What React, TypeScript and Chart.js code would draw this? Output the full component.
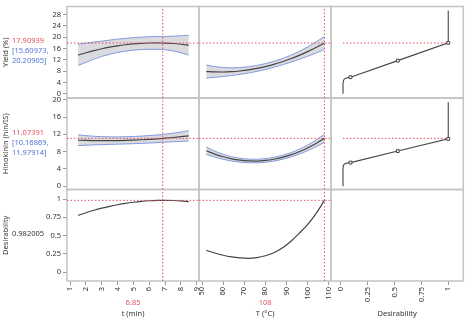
import React, { useEffect, useRef } from 'react';
import { Chart, registerables } from 'chart.js';
Chart.register(...registerables);

// ---- factor grids ----
const tGrid = [1.5, 2, 2.5, 3, 3.5, 4, 4.5, 5, 5.5, 6, 6.5, 6.85, 7, 7.5, 8, 8.5];
const TGrid = [52, 56, 60, 64, 68, 72, 76, 80, 84, 88, 92, 96, 100, 104, 108];

// ---- Yield (%) profiles ----
const yieldVsT_mean = [13.65, 14.48, 15.23, 15.88, 16.44, 16.92, 17.30, 17.60, 17.80, 17.92, 17.95, 17.91, 17.88, 17.73, 17.48, 17.15];
const yieldVsT_lo = [10.0, 11.08, 12.23, 13.18, 13.94, 14.57, 15.05, 15.40, 15.60, 15.70, 15.68, 15.61, 15.53, 15.13, 14.48, 13.65];
const yieldVsT_hi = [17.5, 17.88, 18.23, 18.58, 18.94, 19.27, 19.55, 19.80, 20.00, 20.14, 20.22, 20.21, 20.23, 20.33, 20.48, 20.65];
const yieldVsTemp_mean = [7.84, 7.69, 7.67, 7.79, 8.04, 8.42, 8.94, 9.59, 10.38, 11.30, 12.36, 13.54, 14.86, 16.32, 17.91];
const yieldVsTemp_lo = [5.54, 5.79, 6.07, 6.44, 6.84, 7.32, 7.89, 8.54, 9.33, 10.20, 11.16, 12.14, 13.21, 14.37, 15.61];
const yieldVsTemp_hi = [10.14, 9.59, 9.27, 9.14, 9.24, 9.52, 9.99, 10.64, 11.43, 12.40, 13.56, 14.94, 16.51, 18.27, 20.21];

// ---- Hinokinin (hin/IS) profiles ----
const hinoVsT_mean = [10.65, 10.59, 10.56, 10.54, 10.55, 10.57, 10.61, 10.67, 10.75, 10.85, 10.97, 11.07, 11.11, 11.27, 11.45, 11.65];
const hinoVsT_lo = [9.40, 9.49, 9.56, 9.62, 9.68, 9.73, 9.78, 9.84, 9.91, 9.99, 10.08, 10.17, 10.19, 10.29, 10.37, 10.45];
const hinoVsT_hi = [11.90, 11.69, 11.56, 11.46, 11.42, 11.41, 11.44, 11.50, 11.59, 11.71, 11.86, 11.98, 12.03, 12.25, 12.53, 12.85];
const hinoVsTemp_mean = [8.20, 7.43, 6.81, 6.34, 6.02, 5.85, 5.83, 5.96, 6.24, 6.67, 7.25, 7.98, 8.86, 9.89, 11.07];
const hinoVsTemp_lo = [7.35, 6.73, 6.23, 5.84, 5.57, 5.43, 5.41, 5.54, 5.81, 6.21, 6.75, 7.42, 8.21, 9.12, 10.17];
const hinoVsTemp_hi = [9.05, 8.13, 7.39, 6.84, 6.47, 6.27, 6.25, 6.38, 6.67, 7.13, 7.75, 8.54, 9.51, 10.66, 11.98];

// ---- overall desirability profiles ----
const desVsT = [0.777, 0.813, 0.846, 0.875, 0.900, 0.922, 0.941, 0.956, 0.968, 0.976, 0.981, 0.982, 0.982, 0.980, 0.974, 0.965];
const desVsTemp = [0.30, 0.262, 0.232, 0.21, 0.196, 0.19, 0.20, 0.225, 0.265, 0.33, 0.42, 0.53, 0.65, 0.80, 0.982];

// ---- desirability functions (x = desirability, y = response) ----
const yieldDesFn_d = [0.02, 0.02, 0.024, 0.032, 0.045, 0.065, 0.09, 0.53, 1.0, 1.0];
const yieldDesFn_y = [0, 3.5, 4.6, 5.2, 5.5, 5.7, 5.85, 11.7, 18.0, 29.4];
const yieldDesPts_d = [0.09, 0.53, 1.0];
const yieldDesPts_y = [5.85, 11.7, 18.0];
const hinoDesFn_d = [0.02, 0.02, 0.024, 0.032, 0.05, 0.07, 0.09, 0.53, 1.0, 1.0];
const hinoDesFn_y = [0, 4.2, 4.8, 5.1, 5.3, 5.4, 5.47, 8.13, 10.95, 19.4];
const hinoDesPts_d = [0.09, 0.53, 1.0];
const hinoDesPts_y = [5.47, 8.13, 10.95];

// ---- current settings ----
const tCurrent = 6.85;
const TCurrent = 108;
const yieldCurrent = 17.90939;
const hinoCurrent = 11.07391;
const desCurrent = 0.982005;
const desLineStart = 0.02;
const desLineEnd = 1.0;

// ---- axis ticks / ranges ----
const tTicks = [1, 2, 3, 4, 5, 6, 7, 8, 9];
const TTicks = [50, 60, 70, 80, 90, 100, 110];
const dTicks = [0, 0.25, 0.5, 0.75, 1];
const yieldTicks = [0, 4, 8, 12, 16, 20, 24, 28];
const hinoTicks = [0, 4, 8, 12, 16, 20];
const desTicks = [0, 0.25, 0.5, 0.75, 1];
const tRange = [0.8, 9.15];
const TRange = [48.6, 111.2];
const dRange = [-0.09, 1.14];
const yieldRange = [-1.5, 30.8];
const hinoRange = [-0.75, 20.4];
const desRange = [-0.12, 1.13];

// ---- texts ----
const rowTitles = ['Yield (%)', 'Hinokinin (hin/IS)', 'Desirability'];
const rowValues = ['17.90939', '11.07391', '0.982005'];
const rowIntervals = [['[15.60973,', '20.20905]'], ['[10.16869,', '11.97914]'], []];
const colTitles = ['t (min)', 'T (°C)', 'Desirability'];
const colValues = ['6.85', '108', ''];

const FONT = "'Noto Sans', 'Open Sans', sans-serif";
const RED = '#e2505e';
const BLUE = '#4f74d6';
const TEXT = '#333333';
const BAND_FILL = 'rgba(125,127,140,0.28)';
const BAND_EDGE = '#819be0';
const MEAN = '#454545';

const pts = (xs: number[], ys: number[]) => xs.map((x, i) => ({ x, y: ys[i] }));

function App() {
  const ref = useRef<HTMLCanvasElement | null>(null);
  useEffect(() => {
    if (!ref.current) return;

    const yScale = (range: number[], ticks: number[], weight: number) => ({
      type: 'linear', position: 'left', stack: 'rows', stackWeight: 1, weight,
      min: range[0], max: range[1],
      afterBuildTicks: (s: any) => { s.ticks = ticks.map((v) => ({ value: v })); },
      afterFit: (s: any) => { s.width = 67; },
      grid: { drawOnChartArea: false, drawTicks: true, tickLength: 4, color: '#9a9a9a' },
      border: { display: false },
      ticks: { font: { family: FONT, size: 7.5 }, color: TEXT, padding: 2, autoSkip: false, callback: (v: any) => String(v) },
    });
    const xScale = (range: number[], ticks: number[], weight: number) => ({
      type: 'linear', position: 'bottom', stack: 'cols', stackWeight: 1, weight,
      min: range[0], max: range[1],
      afterBuildTicks: (s: any) => { s.ticks = ticks.map((v) => ({ value: v })); },
      afterFit: (s: any) => { s.height = 40; },
      grid: { drawOnChartArea: false, drawTicks: true, tickLength: 4, color: '#9a9a9a' },
      border: { display: false },
      ticks: { font: { family: FONT, size: 7.5 }, color: TEXT, padding: 2, minRotation: 90, maxRotation: 90, autoSkip: false, callback: (v: any) => String(v) },
    });

    const datasets: any[] = [];
    const red = (data: any[], xAxisID: string, yAxisID: string) =>
      datasets.push({ data, xAxisID, yAxisID, borderColor: RED, borderWidth: 1, borderDash: [1.5, 2], pointRadius: 0, fill: false, tension: 0, order: 0 });
    const mean = (xs: number[], ys: number[], xAxisID: string, yAxisID: string) =>
      datasets.push({ data: pts(xs, ys), xAxisID, yAxisID, borderColor: MEAN, borderWidth: 1.2, pointRadius: 0, fill: false, cubicInterpolationMode: 'monotone', order: 1 });
    const band = (xs: number[], lo: number[], hi: number[], xAxisID: string, yAxisID: string) => {
      datasets.push({ data: pts(xs, lo), xAxisID, yAxisID, borderColor: BAND_EDGE, borderWidth: 1, pointRadius: 0, fill: false, cubicInterpolationMode: 'monotone', order: 2 });
      datasets.push({ data: pts(xs, hi), xAxisID, yAxisID, borderColor: BAND_EDGE, borderWidth: 1, pointRadius: 0, fill: '-1', backgroundColor: BAND_FILL, cubicInterpolationMode: 'monotone', order: 2 });
    };

    const rows = [
      { id: 'y1', val: yieldCurrent, range: yieldRange },
      { id: 'y2', val: hinoCurrent, range: hinoRange },
      { id: 'y3', val: desCurrent, range: desRange },
    ];
    const cols = [
      { id: 'x1', val: tCurrent, range: tRange },
      { id: 'x2', val: TCurrent, range: TRange },
    ];
    rows.forEach((r) => {
      cols.forEach((c) => {
        red([{ x: c.range[0], y: r.val }, { x: c.range[1], y: r.val }], c.id, r.id);
        red([{ x: c.val, y: r.range[0] }, { x: c.val, y: r.range[1] }], c.id, r.id);
      });
    });
    red([{ x: desLineStart, y: yieldCurrent }, { x: desLineEnd, y: yieldCurrent }], 'x3', 'y1');
    red([{ x: desLineStart, y: hinoCurrent }, { x: desLineEnd, y: hinoCurrent }], 'x3', 'y2');

    datasets.push({ data: pts(yieldDesPts_d, yieldDesPts_y), xAxisID: 'x3', yAxisID: 'y1', showLine: false, pointStyle: 'rect', pointRadius: 2, pointBorderWidth: 1, pointBorderColor: MEAN, pointBackgroundColor: '#ffffff', order: 0 });
    datasets.push({ data: pts(hinoDesPts_d, hinoDesPts_y), xAxisID: 'x3', yAxisID: 'y2', showLine: false, pointStyle: 'rect', pointRadius: 2, pointBorderWidth: 1, pointBorderColor: MEAN, pointBackgroundColor: '#ffffff', order: 0 });
    datasets.push({ data: pts(yieldDesFn_d, yieldDesFn_y), xAxisID: 'x3', yAxisID: 'y1', borderColor: MEAN, borderWidth: 1.1, pointRadius: 0, fill: false, tension: 0, order: 1 });
    datasets.push({ data: pts(hinoDesFn_d, hinoDesFn_y), xAxisID: 'x3', yAxisID: 'y2', borderColor: MEAN, borderWidth: 1.1, pointRadius: 0, fill: false, tension: 0, order: 1 });

    mean(tGrid, yieldVsT_mean, 'x1', 'y1');
    mean(TGrid, yieldVsTemp_mean, 'x2', 'y1');
    mean(tGrid, hinoVsT_mean, 'x1', 'y2');
    mean(TGrid, hinoVsTemp_mean, 'x2', 'y2');
    mean(tGrid, desVsT, 'x1', 'y3');
    mean(TGrid, desVsTemp, 'x2', 'y3');
    band(tGrid, yieldVsT_lo, yieldVsT_hi, 'x1', 'y1');
    band(TGrid, yieldVsTemp_lo, yieldVsTemp_hi, 'x2', 'y1');
    band(tGrid, hinoVsT_lo, hinoVsT_hi, 'x1', 'y2');
    band(TGrid, hinoVsTemp_lo, hinoVsTemp_hi, 'x2', 'y2');

    const framePlugin = {
      id: 'frames',
      beforeDatasetsDraw(chart: any) {
        const ctx = chart.ctx;
        ctx.save();
        ctx.strokeStyle = '#c4c4c4';
        ctx.lineWidth = 1.5;
        ['x1', 'x2', 'x3'].forEach((xs) => {
          ['y1', 'y2', 'y3'].forEach((ys) => {
            const X = chart.scales[xs];
            const Y = chart.scales[ys];
            ctx.strokeRect(X.left, Y.top, X.right - X.left, Y.bottom - Y.top);
          });
        });
        ctx.restore();
      },
    };

    const textPlugin = {
      id: 'texts',
      afterDraw(chart: any) {
        const ctx = chart.ctx;
        ctx.save();
        ['y1', 'y2', 'y3'].forEach((id, i) => {
          const s = chart.scales[id];
          const cy = (s.top + s.bottom) / 2;
          ctx.save();
          ctx.font = `7.5px ${FONT}`;
          ctx.translate(6, cy);
          ctx.rotate(-Math.PI / 2);
          ctx.textAlign = 'center';
          ctx.textBaseline = 'middle';
          ctx.fillStyle = TEXT;
          ctx.fillText(rowTitles[i], 0, 0);
          ctx.restore();
          ctx.font = `7.5px ${FONT}`;
          ctx.textAlign = 'left';
          ctx.textBaseline = 'middle';
          const lines = [rowValues[i], ...rowIntervals[i]];
          const lh = 10;
          const y0 = cy - 1 - ((lines.length - 1) * lh) / 2;
          const x0 = 12;
          lines.forEach((l, k) => {
            ctx.fillStyle = i === 2 ? TEXT : k === 0 ? RED : BLUE;
            ctx.fillText(l, x0, y0 + k * lh);
          });
        });
        ctx.font = `7.5px ${FONT}`;
        ['x1', 'x2', 'x3'].forEach((id, i) => {
          const s = chart.scales[id];
          const cx = (s.left + s.right) / 2;
          ctx.textAlign = 'center';
          ctx.textBaseline = 'middle';
          if (colValues[i]) {
            ctx.fillStyle = RED;
            ctx.fillText(colValues[i], cx, 303);
          }
          ctx.fillStyle = TEXT;
          ctx.fillText(colTitles[i], cx, 314);
        });
        ctx.restore();
      },
    };

    const chart = new Chart(ref.current, {
      type: 'line',
      data: { datasets },
      options: {
        responsive: false,
        animation: false,
        layout: { padding: { top: 3, right: 2, left: 0, bottom: 0 } },
        plugins: { legend: { display: false }, tooltip: { enabled: false } },
        scales: {
          x1: xScale(tRange, tTicks, 1),
          x2: xScale(TRange, TTicks, 2),
          x3: xScale(dRange, dTicks, 3),
          y1: yScale(yieldRange, yieldTicks, 3),
          y2: yScale(hinoRange, hinoTicks, 2),
          y3: yScale(desRange, desTicks, 1),
        } as any,
      },
      plugins: [framePlugin, textPlugin],
    } as any);
    return () => chart.destroy();
  }, []);

  return (
    <div style={{ position: 'absolute', left: 0, top: 0, width: 474, height: 321, background: '#fff' }}>
      <canvas ref={ref} width={474} height={321} style={{ display: 'block' }} />
    </div>
  );
}

export default App;
